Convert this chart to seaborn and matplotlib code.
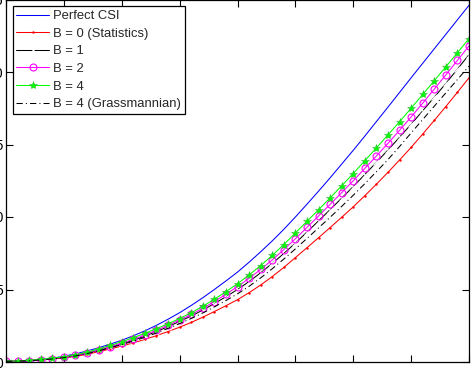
import numpy as np
import pandas as pd
import seaborn as sns
import matplotlib
matplotlib.use("Agg")
import matplotlib.pyplot as plt

# x positions (one marker per point)
x_vals = list(range(0, 41))

perfect_csi = [0.00, 0.02, 0.06, 0.14, 0.26, 0.40, 0.56, 0.76, 0.98, 1.23,
               1.50, 1.81, 2.15, 2.53, 2.95, 3.40, 3.90, 4.43, 5.00, 5.59,
               6.20, 6.88, 7.60, 8.35, 9.15, 10.00, 10.88, 11.78, 12.70, 13.65,
               14.60, 15.58, 16.58, 17.58, 18.59, 19.60, 20.60, 21.60, 22.60, 23.60,
               24.60]
b0_stats = [0.05, 0.06, 0.09, 0.13, 0.20, 0.28, 0.39, 0.53, 0.71, 0.90,
            1.10, 1.32, 1.56, 1.82, 2.10, 2.40, 2.73, 3.09, 3.48, 3.88,
            4.30, 4.78, 5.31, 5.89, 6.52, 7.20, 7.88, 8.57, 9.27, 9.98,
            10.70, 11.47, 12.26, 13.08, 13.93, 14.80, 15.72, 16.66, 17.62, 18.60,
            19.60]
b1 = [0.05, 0.07, 0.10, 0.16, 0.23, 0.32, 0.45, 0.61, 0.81, 1.02,
      1.25, 1.50, 1.79, 2.10, 2.44, 2.80, 3.17, 3.58, 4.03, 4.50,
      5.00, 5.55, 6.15, 6.80, 7.48, 8.20, 8.96, 9.73, 10.51, 11.30,
      12.10, 12.93, 13.77, 14.62, 15.50, 16.40, 17.32, 18.26, 19.21, 20.20,
      21.20]
b2 = [0.05, 0.07, 0.10, 0.16, 0.24, 0.33, 0.46, 0.63, 0.84, 1.06,
      1.30, 1.56, 1.86, 2.19, 2.54, 2.90, 3.28, 3.70, 4.17, 4.67,
      5.20, 5.77, 6.38, 7.04, 7.75, 8.50, 9.28, 10.07, 10.87, 11.68,
      12.50, 13.35, 14.21, 15.08, 15.98, 16.90, 17.85, 18.82, 19.80, 20.80,
      21.80]
b4 = [0.05, 0.07, 0.11, 0.18, 0.26, 0.35, 0.50, 0.68, 0.90, 1.14,
      1.40, 1.68, 1.98, 2.30, 2.64, 3.00, 3.40, 3.84, 4.33, 4.85,
      5.40, 6.00, 6.65, 7.35, 8.10, 8.90, 9.70, 10.50, 11.32, 12.15,
      13.00, 13.88, 14.77, 15.66, 16.57, 17.50, 18.45, 19.40, 20.36, 21.33,
      22.30]
b4_grass = [0.05, 0.06, 0.09, 0.14, 0.21, 0.30, 0.42, 0.58, 0.77, 0.98,
            1.20, 1.44, 1.71, 2.00, 2.32, 2.65, 3.00, 3.38, 3.80, 4.24,
            4.70, 5.22, 5.80, 6.43, 7.10, 7.80, 8.52, 9.25, 9.98, 10.73,
            11.50, 12.30, 13.12, 13.96, 14.86, 15.80, 16.72, 17.64, 18.56, 19.48,
            20.40]

labels = ["Perfect CSI", "B = 0 (Statistics)", "B = 1", "B = 2", "B = 4",
          "B = 4 (Grassmannian)"]
x_ticks = [0, 5, 10, 15, 20, 25, 30, 35, 40]
y_ticks = [0, 5, 10, 15, 20, 25]

sns.set_theme(style="ticks")
plt.rcParams['font.family'] = ['Liberation Sans', 'DejaVu Sans']

fig = plt.figure(figsize=(4.74, 3.68), dpi=100)
ax = fig.add_axes([6 / 474, 6 / 368, 463 / 474, 362.5 / 368])

lw = 0.75
sns.lineplot(x=x_vals, y=perfect_csi, ax=ax, color='#0000ff', lw=lw, label=labels[0])
sns.lineplot(x=x_vals, y=b0_stats, ax=ax, color='#ff0000', lw=lw, marker='.',
             markersize=3.5, markeredgewidth=0, label=labels[1])
sns.lineplot(x=x_vals, y=b1, ax=ax, color='black', lw=lw, marker='x',
             markersize=4, markeredgewidth=0.8, label=labels[2])
sns.lineplot(x=x_vals, y=b2, ax=ax, color='#ff00ff', lw=lw, marker='o',
             markersize=5, markerfacecolor='none', markeredgecolor='#ff00ff',
             markeredgewidth=0.8, label=labels[3])
sns.lineplot(x=x_vals, y=b4, ax=ax, color='#00ff00', lw=lw, marker='*',
             markersize=6, markeredgewidth=0.4, markeredgecolor='#33bb33',
             label=labels[4])
sns.lineplot(x=x_vals, y=b4_grass, ax=ax, color='black', lw=lw,
             linestyle=(0, (6, 3, 1, 3)), label=labels[5])

ax.set_xlim(0, 40)
ax.set_ylim(0, 25)
ax.set_xticks(x_ticks)
ax.set_yticks(y_ticks)
ax.tick_params(direction='in', length=5, width=0.8, top=True, right=True,
               labelsize=10, colors='black')
ax.tick_params(axis='y', pad=2)
# x labels sit below the cropped bottom edge
ax.tick_params(axis='x', pad=16)
for sp in ax.spines.values():
    sp.set_visible(True)
    sp.set_color('black')
    sp.set_linewidth(0.9)
ax.set_xlabel("")
ax.set_ylabel("")

leg = ax.legend(loc='upper left', bbox_to_anchor=(0.0, 1.0), fontsize=9.4,
                frameon=True, fancybox=False, edgecolor='black', framealpha=1,
                handlelength=2.5, handletextpad=0.3, labelspacing=0.42,
                borderpad=0.3, borderaxespad=0.5)
leg.get_frame().set_linewidth(0.9)

fig.savefig("out.png", dpi=100)
